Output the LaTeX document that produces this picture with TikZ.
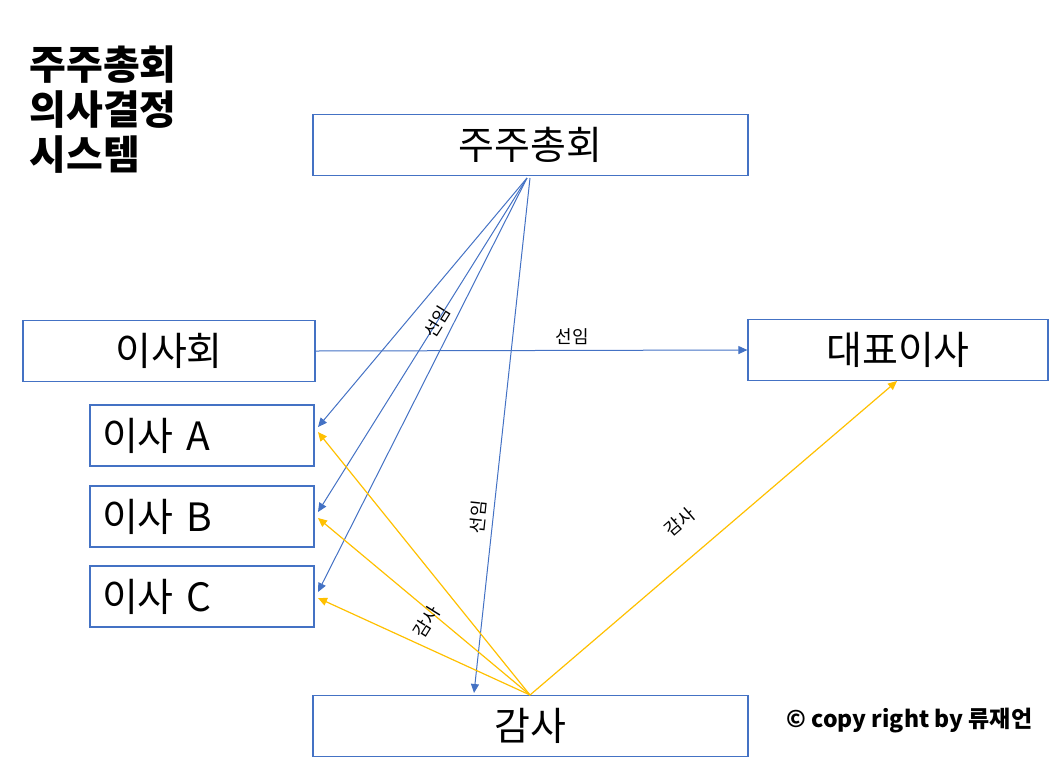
\documentclass[tikz,border=0pt]{standalone}
\usepackage{fontspec}
\setmainfont{Noto Sans CJK KR}
\usetikzlibrary{arrows.meta}
\definecolor{bl}{HTML}{4472C4}
\definecolor{yl}{HTML}{FFC000}
\tikzset{
 box/.style={draw=bl,line width=1.2pt,minimum height=61pt,inner sep=0pt,font=\fontsize{39}{40}\selectfont},
 barr/.style={draw=bl,line width=1pt,-{Triangle[length=9pt,width=8pt]}},
 yarr/.style={draw=yl,line width=1.2pt,-{Triangle[length=9pt,width=8pt]}},
 lab/.style={font=\fontsize{18}{20}\selectfont,inner sep=1pt}
}
\begin{document}
\begin{tikzpicture}[x=1pt,y=-1pt]
\useasboundingbox (0,0) rectangle (1054,777);
\node[font=\bfseries\fontsize{40}{45}\selectfont,align=left,anchor=north west] (title) at (26,42) {주주총회\\의사결정\\시스템};
\node[box,minimum width=435pt] (zz) at (530.5,145) {주주총회};
\node[box,minimum width=292pt] (bd) at (169,351) {이사회};
\node[box,minimum width=300pt] (ceo) at (898,350) {대표이사};
\node[box,minimum width=224pt,text width=200pt,align=left] (a) at (202,435.5) {이사 A};
\node[box,minimum width=224pt,text width=200pt,align=left] (b) at (202,516.5) {이사 B};
\node[box,minimum width=224pt,text width=200pt,align=left] (c) at (202,596.5) {이사 C};
\node[box,minimum width=435pt] (gs) at (530.5,726) {감사};
\node[font=\bfseries\fontsize{23}{25}\selectfont,anchor=west] (cr) at (783,721) {© copy right by 류재언};
\coordinate (s1) at (527,178);
\coordinate (s2) at (530,178);
\coordinate (y0) at (530,695);
\draw[barr] (s1) -- (318,427);
\draw[barr] (s1) -- (318,512);
\draw[barr] (s1) -- (318,592);
\draw[barr] (s2) -- (474,693);
\draw[barr] (bd.east) -- (ceo.west);
\draw[yarr] (y0) -- (318,432);
\draw[yarr] (y0) -- (318,518);
\draw[yarr] (y0) -- (318,598);
\draw[yarr] (y0) -- (897,381);
\node[lab,rotate=58] (l1) at (437,322) {선임};
\node[lab,rotate=84] (l2) at (478,517) {선임};
\node[lab] (l3) at (572,337) {선임};
\node[lab,rotate=58] (l4) at (427,622) {감사};
\node[lab,rotate=41] (l5) at (680,522) {감사};
\end{tikzpicture}
\end{document}
